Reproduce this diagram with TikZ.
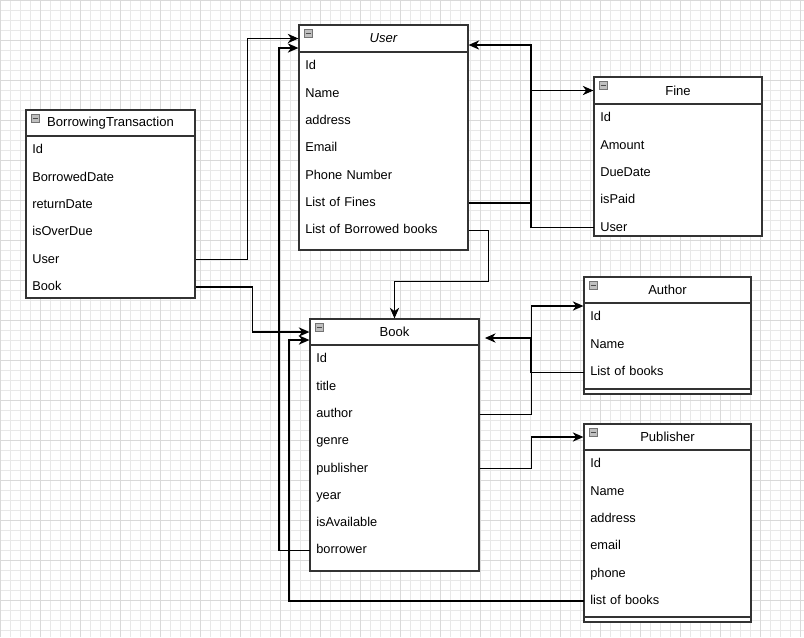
\documentclass[tikz,border=0pt]{standalone}
\usepackage{fontspec}
\setmainfont{Liberation Sans}
\usetikzlibrary{arrows.meta,calc}
\tikzset{
  box/.style={draw=black!80,line width=0.9pt,fill=white},
  hdr/.style={draw=black!80,line width=0.9pt,inner sep=0pt,font=\fontsize{9.8}{11}\selectfont},
  row/.style={anchor=west,inner xsep=4.5pt,inner ysep=0pt,align=left,text height=7pt,text depth=2pt,font=\fontsize{9.6}{11}\selectfont},
  conn/.style={black,line width=0.8pt},
  arr/.style={conn,-{Stealth[length=8pt,width=7pt,inset=2.5pt]}},
}
\newcommand{\umlbox}[8]{%
  \draw[box] (#2,#3) rectangle ++(#4,#6);
  \node[hdr,minimum width={#4*0.75pt},minimum height={#5*0.75pt}] (#1) at ({#2+#4/2},{#3+#5/2}) {#7};
  \draw[fill=black!25,draw=black!55,line width=0.4pt] ({#2+5},{#3+4}) rectangle ++(8,8);
  \draw[black!70,line width=0.6pt] ({#2+6.5},{#3+8}) -- ++(5,0);
  \foreach \t [count=\i] in {#8}
    \node[row,text width={(#4-12)*0.75pt}] (#1-\i) at (#2,{#3+#5+14.5+(\i-1)*27.3}) {\t};
}
\begin{document}
\begin{tikzpicture}[x=0.75pt,y=-0.75pt]
\useasboundingbox (0,0) rectangle (804,637);
\fill[white] (0,0) rectangle (804,637);
\foreach \g in {0,10,...,800} \draw[black!9,line width=0.3pt] (\g,0) -- (\g,637);
\foreach \g in {0,10,...,630} \draw[black!9,line width=0.3pt] (0,\g) -- (804,\g);
\foreach \g in {0,40,...,800} \draw[black!15,line width=0.4pt] (\g,0) -- (\g,637);
\foreach \g in {0,40,...,630} \draw[black!15,line width=0.4pt] (0,\g) -- (804,\g);

\umlbox{user}{299}{25}{169}{27}{225}{\itshape User}{Id,Name,address,Email,Phone Number,List of Fines,List of Borrowed books}
\umlbox{bt}{26}{110}{169}{26}{188}{BorrowingTransaction}{Id,BorrowedDate,returnDate,isOverDue,User,Book}
\umlbox{fine}{594}{77}{168}{27}{159}{Fine}{Id,Amount,DueDate,isPaid,User}
\umlbox{book}{310}{319}{169}{26}{252}{Book}{Id,title,author,genre,publisher,year,isAvailable,borrower}
\umlbox{author}{584}{277}{167}{26}{117}{Author}{Id,Name,List of books}
\umlbox{publisher}{584}{424}{167}{26}{198}{Publisher}{Id,Name,address,email,phone,list of books}
\draw[black!80,line width=0.9pt] (author.west |- 0,389) -- (author.east |- 0,389);
\draw[black!80,line width=0.9pt] (publisher.west |- 0,617) -- (publisher.east |- 0,617);

\coordinate (uin2) at ($(user.west)+(0,9.5)$);
\coordinate (uin3) at ($(user.east)+(0,6.5)$);
\coordinate (bin2) at ($(book.west)+(0,8)$);
\coordinate (bin3) at ($(book.east)+(0,6)$);
\coordinate (ain) at ($(author.west)+(0,16)$);

\draw[arr] (bt-5.east) -- ++(52,0) |- (user.west);
\draw[arr] (bt-6.east) -- ++(57,0) |- (book.west);
\draw[arr] (book-8.west) -- ++(-31,0) |- (uin2);
\draw[arr] (publisher-6.west) -- ++(-295,0) |- (bin2);
\draw[arr] (user-6.east) -- ++(62,0) |- (fine.west);
\draw[arr] (fine-5.west) -- ++(-63,0) |- (uin3);
\draw[arr] (user-7.east) -- ++(20,0) -- ++(0,51) -| (book.north);
\draw[arr] (book-3.east) -- ++(52,0) |- (ain);
\draw[arr,shorten >=4pt] (author-3.west) -- ++(-53,0) |- (bin3);
\draw[arr] (book-5.east) -- ++(52,0) |- (publisher.west);
\end{tikzpicture}
\end{document}
